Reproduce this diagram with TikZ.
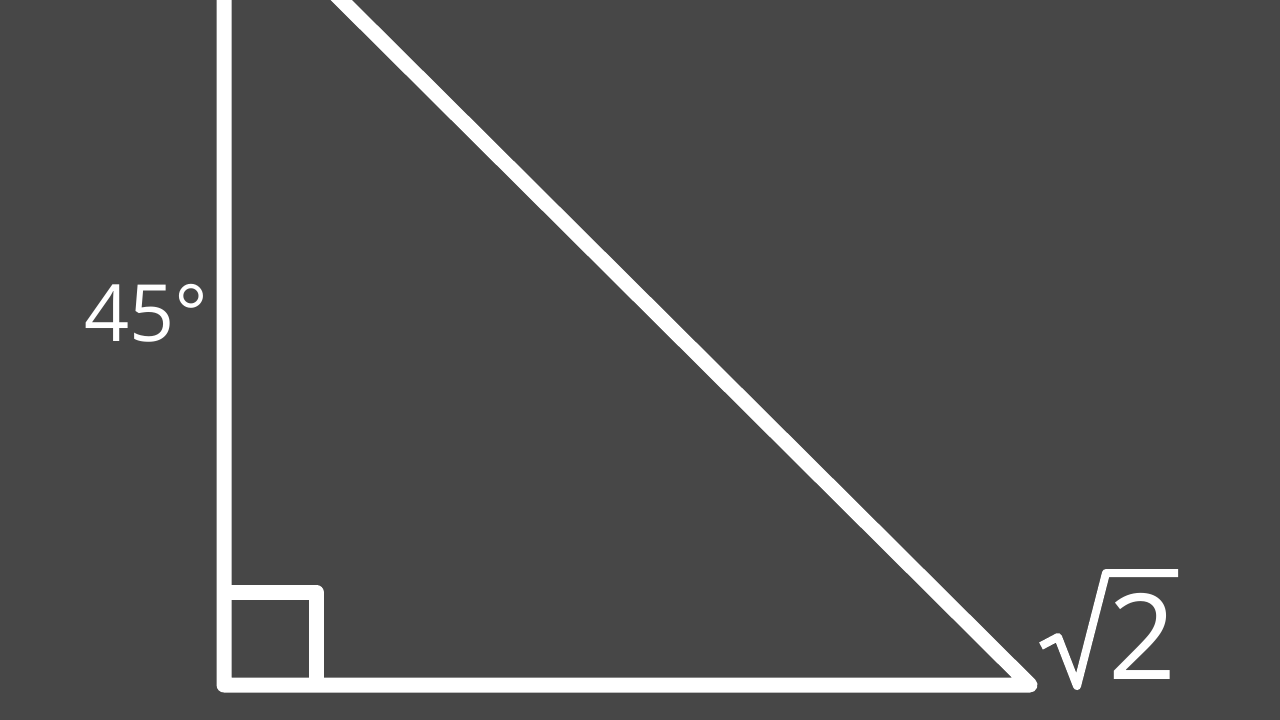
\documentclass[tikz,border=0pt]{standalone}
\usepackage{fontspec}
\setmainfont{Open Sans}
\definecolor{bg}{HTML}{474747}
\begin{document}
\begin{tikzpicture}[x=1pt,y=-1pt,
  edge/.style={draw=white,line width=15pt,line join=round},
  lbl/.style={text=white,inner sep=0pt}]
\fill[bg] (0,0) rectangle (1280,720);
\useasboundingbox (0,0) rectangle (1280,720);
\begin{scope}
\clip (0,0) rectangle (1280,720);
\coordinate (A) at (224,-40);
\coordinate (C) at (224,685);
\coordinate (B) at (1030,685);
\coordinate (T) at (301,-40);
\draw[edge] (A) -- (C) -- (B) -- (T);
\coordinate (S1) at (224,592);
\coordinate (S2) at (316,592);
\coordinate (S3) at (316,685);
\draw[edge] (S1) -- (S2) -- (S3);
\end{scope}
\node[lbl,anchor=base west] (ang) at (84,341) {\fontsize{79}{96}\selectfont 45°};
\coordinate (R0) at (1041,646);
\coordinate (R1) at (1058,637);
\coordinate (R2) at (1077,686);
\coordinate (R3) at (1106,573);
\coordinate (R4) at (1178,573);
\draw[draw=white,line width=8pt,line join=round] (R0) -- (R1) -- (R2) -- (R3) -- (R4);
\node[lbl,anchor=base west] (two) at (1108,679) {\fontsize{119}{140}\selectfont 2};
\end{tikzpicture}
\end{document}
